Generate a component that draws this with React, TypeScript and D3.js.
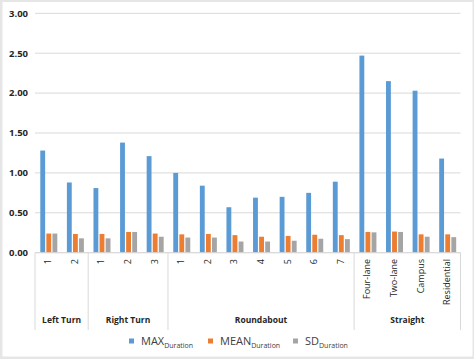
import React from "react";
import * as d3 from "d3";

const categories = ["1", "2", "1", "2", "3", "1", "2", "3", "4", "5", "6", "7", "Four-lane", "Two-lane", "Campus", "Residential"];
const groups = [
  { name: "Left Turn", count: 2 },
  { name: "Right Turn", count: 3 },
  { name: "Roundabout", count: 7 },
  { name: "Straight", count: 4 },
];
const maxDuration = [1.28, 0.88, 0.81, 1.38, 1.21, 1.0, 0.84, 0.57, 0.69, 0.7, 0.75, 0.89, 2.47, 2.15, 2.03, 1.18];
const meanDuration = [0.24, 0.235, 0.235, 0.26, 0.24, 0.23, 0.235, 0.22, 0.2, 0.21, 0.225, 0.22, 0.26, 0.265, 0.23, 0.23];
const sdDuration = [0.24, 0.18, 0.18, 0.26, 0.2, 0.19, 0.19, 0.14, 0.14, 0.15, 0.175, 0.17, 0.255, 0.26, 0.2, 0.195];
const yTicks = [0, 0.5, 1, 1.5, 2, 2.5, 3];
const seriesNames = ["MAX", "MEAN", "SD"];
const seriesColors = ["#5B9BD5", "#ED7D31", "#A5A5A5"];

const W = 474;
const H = 359;

export default function App() {
  const x = d3.scaleBand<number>().domain(d3.range(categories.length)).range([35, 460.5]).padding(0);
  const y = d3.scaleLinear().domain([0, 3]).range([252.7, 13.3]);
  const inner = d3.scaleBand<number>().domain([0, 1, 2]).range([-8, 9]).paddingInner(0.2);
  const series = [maxDuration, meanDuration, sdDuration];
  const fmt = d3.format(".2f");

  // group boundaries
  let acc = 0;
  const bounds: { start: number; end: number; name: string }[] = [];
  groups.forEach((g) => {
    bounds.push({ start: acc, end: acc + g.count, name: g.name });
    acc += g.count;
  });
  const xEdge = (i: number) => (i >= categories.length ? x.range()[1] : (x(i) as number));

  const legendX = [129, 208, 293];
  const font = "'Open Sans', sans-serif";

  return (
    <svg width={W} height={H} style={{ position: "absolute", left: 0, top: 0 }} fontFamily={font}>
      <rect x={0} y={0} width={W} height={H} fill="#E6E6E6" />
      <rect x={2.5} y={2} width={470} height={354.5} fill="#FFFFFF" />
      {/* gridlines */}
      {yTicks.map((t) => (
        <g key={t}>
          <line x1={35} x2={460.5} y1={y(t)} y2={y(t)} stroke="#D9D9D9" strokeWidth={1} />
          <text x={28} y={y(t)} dy="0.35em" textAnchor="end" fontSize={9.5} fontWeight={700} fill="#262626">
            {fmt(t)}
          </text>
        </g>
      ))}
      {/* bars */}
      {categories.map((c, i) => {
        const cx = (x(i) as number) + x.bandwidth() / 2;
        return (
          <g key={i}>
            {series.map((s, k) => (
              <rect
                key={k}
                x={cx + (inner(k) as number)}
                width={inner.bandwidth()}
                y={y(s[i])}
                height={y(0) - y(s[i])}
                fill={seriesColors[k]}
              />
            ))}
            <text
              transform={`translate(${cx + 3},259) rotate(-90)`}
              textAnchor="end"
              fontSize={9}
              fill="#262626"
            >
              {c}
            </text>
          </g>
        );
      })}
      {/* axis line */}
      <line x1={35} x2={460.5} y1={y(0)} y2={y(0)} stroke="#D9D9D9" />
      {/* group separators */}
      {[0, ...bounds.map((b) => b.end)].map((i) => (
        <line key={i} x1={xEdge(i)} x2={xEdge(i)} y1={y(0)} y2={330} stroke="#D9D9D9" />
      ))}
      {bounds.map((b) => (
        <text
          key={b.name}
          x={(xEdge(b.start) + xEdge(b.end)) / 2}
          y={322.5}
          textAnchor="middle"
          fontSize={8.5}
          fontWeight={700}
          fill="#262626"
        >
          {b.name}
        </text>
      ))}
      {/* legend */}
      {seriesNames.map((n, k) => (
        <g key={n}>
          <rect x={legendX[k]} y={338.5} width={5} height={5} fill={seriesColors[k]} />
          <text x={legendX[k] + 12} y={345} fontSize={11} fill="#404040">
            {n}
            <tspan fontSize={7} dy={2.5}>Duration</tspan>
          </text>
        </g>
      ))}
    </svg>
  );
}
